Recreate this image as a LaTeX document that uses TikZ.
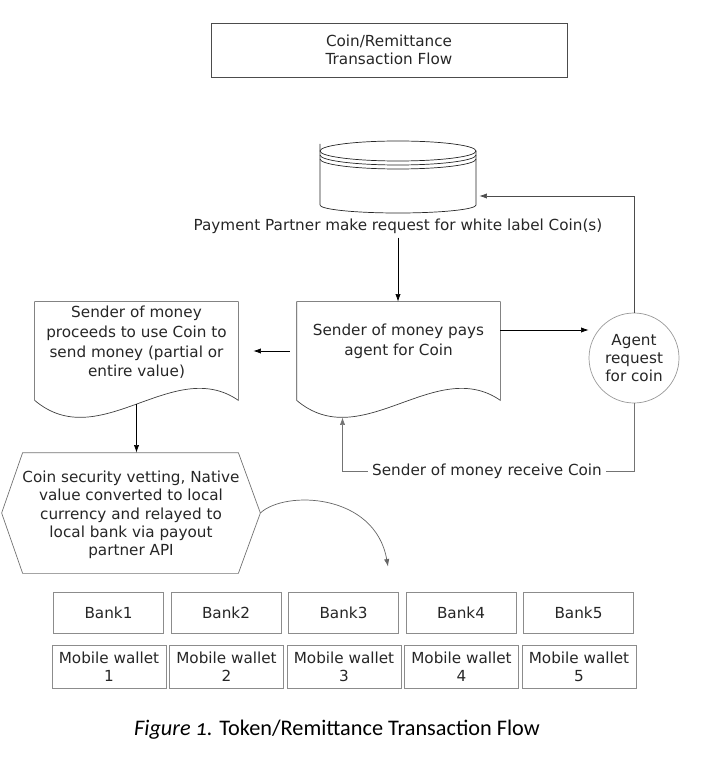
\documentclass[tikz,border=0pt]{standalone}
\usepackage{fontspec}
\setmainfont{DejaVu Sans}
\newfontfamily\capfont[Numbers=OldStyle]{Carlito}
\usetikzlibrary{positioning,arrows.meta}

% outline of a document shape round a node
\newcommand{\docoutline}[1]{%
	\draw[black!75] (#1.south west) -- (#1.north west) -- (#1.north east) -- (#1.south east)
		.. controls ([shift={(-65,-45)}]#1.south east) and ([shift={(65,55)}]#1.south west) .. (#1.south west);}

\begin{document}
\begin{tikzpicture}[x=0.03cm,y=-0.03cm,line width=0.6pt,>={Latex[length=6.5pt,width=4.5pt]},
	every node/.style={text=black!85,font=\fontsize{13}{15.3}\selectfont,align=center},
	box/.style={draw=black!70,inner sep=0pt},
	doc/.style={minimum width=6.09cm,minimum height=2.94cm,inner sep=0pt},
	bankbox/.style={draw=black!45,minimum width=3.3cm,minimum height=1.23cm,inner sep=0pt},
	walletbox/.style={draw=black!45,minimum width=3.42cm,minimum height=1.29cm,inner sep=0pt},
	gline/.style={draw=black!55}]
	\useasboundingbox (0,0) rectangle (719,769);

	% title
	\node[box,minimum width=10.68cm,minimum height=1.62cm] (title) at (389,50) {Coin/Remittance\\Transaction Flow};

	% coin store
	\draw[black!85] (320,144) -- (320,205) arc[start angle=180,end angle=0,x radius=78,y radius=8] -- (476,151);
	\draw[black!85] (398,151) ellipse [x radius=78,y radius=10];
	\draw[black!85] (320,155) arc[start angle=180,end angle=0,x radius=78,y radius=10];
	\draw[black!85] (320,159) arc[start angle=180,end angle=0,x radius=78,y radius=10];
	\node[minimum width=4.68cm,minimum height=2.1cm,inner sep=0pt] (store) at (398,178) {};
	\node (plabel) at (398,226) {Payment Partner make request for white label Coin(s)};

	% documents
	\node[doc] (send) at (136.5,351) {};
	\node[doc] (pays) at (398.5,351) {};
	\docoutline{send}
	\docoutline{pays}
	\node[font=\fontsize{13}{16.7}\selectfont] (sendtxt) at (136.5,342.5) {Sender of money\\proceeds to use Coin to\\send money (partial or\\entire value)};
	\node[font=\fontsize{13}{16.7}\selectfont] (paystxt) at (398.5,341.5) {Sender of money pays\\agent for Coin};

	% agent
	\node[circle,draw=black!40,minimum size=2.7cm,inner sep=0pt] (agent) at (634,358) {Agent\\request\\for coin};
	\node (recv) at (487,471) {Sender of money receive Coin};

	% vetting
	\node[minimum width=7.74cm,minimum height=3.6cm,inner sep=0pt] (vet) at (131,513) {};
	\draw[black!55] (vet.west) -- ([xshift=0.63cm]vet.north west) -- ([xshift=-0.66cm]vet.north east) -- (vet.east)
		-- ([xshift=-0.66cm]vet.south east) -- ([xshift=0.63cm]vet.south west) -- cycle;
	\node[font=\fontsize{13}{15.6}\selectfont] (vettxt) at (131,515) {Coin security vetting, Native\\value converted to local\\currency and relayed to\\local bank via payout\\partner API};

	% banks and wallets
	\foreach \i in {1,...,5} {
		\node[bankbox] (bank\i) at ({108.5+(\i-1)*117.5},612.5) {Bank\i};
		\node[walletbox] (wallet\i) at ({109+(\i-1)*117.5},666.5) {Mobile wallet\\\i};
	}

	% connectors
	\draw[->] (plabel.south) -- (plabel.south |- pays.north);
	\draw[->] ([shift={(0,-21)}]pays.east) -- ([shift={(0,-21)}]pays.east -| agent.west);
	\draw[black!70,->] (agent.north) |- ([shift={(3,18)}]store.east);
	\draw[gline] (agent.south) |- (recv.east);
	\draw[gline,->] (recv.west) -| ([shift={(-56,17)}]pays.south);
	\draw[->] ([shift={(-7,0)}]pays.west) -- ([shift={(15,0)}]send.east);
	\draw[->] ([shift={(0,4)}]send.south) -- (send.south |- vet.north);
	\draw[black!60,->] (vet.east) .. controls (285,490) and (375,493) .. ([shift={(44.5,-25)}]bank3.north);

	% caption
	\node[font=\capfont\fontsize{19}{22}\selectfont,text=black] (caption) at (337,730) {\textit{Figure 1.} Token/Remittance Transaction Flow};
\end{tikzpicture}
\end{document}
